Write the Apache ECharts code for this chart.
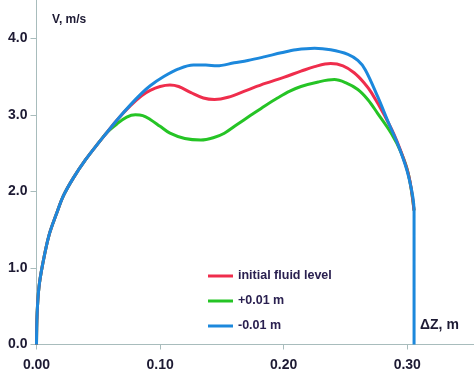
<!DOCTYPE html>
<html><head><meta charset="utf-8">
<script src="https://cdn.jsdelivr.net/npm/echarts@6/dist/echarts.min.js"></script>
<style>html,body{margin:0;padding:0;background:#fff}#c{width:474px;height:371px}</style>
</head><body><div id="c"></div>
<script>
// Shared start of all three curves (dZ, V)
const sharedX = [0, 0.0005, 0.002, 0.005, 0.01, 0.016, 0.022, 0.03, 0.04, 0.05, 0.057];
const sharedV = [0, 0.4, 0.75, 1.05, 1.42, 1.7, 1.95, 2.18, 2.42, 2.63, 2.77];

const blueX = [0.065, 0.076, 0.085, 0.092, 0.103, 0.115, 0.127, 0.137, 0.146, 0.16, 0.171, 0.185, 0.198, 0.21, 0.225, 0.238, 0.252, 0.26, 0.266, 0.276, 0.285, 0.293, 0.301, 0.3055, 0.3055];
const blueV = [2.93, 3.13, 3.28, 3.38, 3.50, 3.60, 3.65, 3.65, 3.64, 3.68, 3.71, 3.76, 3.81, 3.85, 3.87, 3.85, 3.79, 3.71, 3.59, 3.24, 2.89, 2.59, 2.20, 1.75, 0];

const redX = [0.065, 0.076, 0.085, 0.092, 0.1, 0.108, 0.115, 0.125, 0.135, 0.144, 0.155, 0.17, 0.185, 0.2, 0.214, 0.225, 0.238, 0.248, 0.257, 0.265, 0.271, 0.282, 0.291, 0.301, 0.3055];
const redV = [2.93, 3.12, 3.25, 3.32, 3.37, 3.39, 3.37, 3.29, 3.22, 3.20, 3.23, 3.32, 3.41, 3.49, 3.57, 3.63, 3.67, 3.64, 3.55, 3.42, 3.29, 2.98, 2.68, 2.22, 1.75];

const greenX = [0.065, 0.073, 0.08, 0.086, 0.092, 0.1, 0.108, 0.12, 0.133, 0.143, 0.152, 0.162, 0.173, 0.185, 0.195, 0.205, 0.214, 0.228, 0.241, 0.25, 0.26, 0.268, 0.276, 0.287, 0.295, 0.301, 0.3055];
const greenV = [2.88, 2.97, 3.0, 2.99, 2.94, 2.85, 2.76, 2.69, 2.67, 2.70, 2.76, 2.87, 2.99, 3.12, 3.22, 3.31, 3.37, 3.43, 3.46, 3.42, 3.33, 3.2, 3.02, 2.76, 2.51, 2.22, 1.75];

const seriesNames = ['initial fluid level', '+0.01 m', '-0.01 m'];
const xTicks = [0, 0.1, 0.2, 0.3];
const yTicks = [0, 1, 2, 3, 4];

function pts(xs, vs) {
  const a = sharedX.map((x, i) => [x, sharedV[i]]);
  return a.concat(xs.map((x, i) => [x, vs[i]]));
}

const chart = echarts.init(document.getElementById('c'));
const txt = '#1d1a33';
const axisCol = '#a8bcbc';
const font = 'Liberation Sans, Arial, sans-serif';
chart.setOption({
  animation: false,
  grid: { left: 36.5, right: 0, top: 0, bottom: 26.5, containLabel: false, outerBoundsMode: 'none' },
  xAxis: {
    type: 'value', min: 0, max: 0.354,
    splitLine: { show: false },
    axisLine: { lineStyle: { color: axisCol, width: 1 } },
    axisTick: { customValues: xTicks, length: 5, lineStyle: { color: axisCol } },
    axisLabel: { customValues: xTicks, formatter: v => v.toFixed(2), color: txt, fontWeight: 'bold', fontSize: 14, fontFamily: font, margin: 14 }
  },
  yAxis: {
    type: 'value', min: 0, max: 4.5,
    splitLine: { show: false },
    axisLine: { show: true, lineStyle: { color: axisCol, width: 1 } },
    axisTick: { show: true, customValues: yTicks, length: 6, lineStyle: { color: axisCol } },
    axisLabel: { customValues: yTicks, formatter: v => v.toFixed(1), color: txt, fontWeight: 'bold', fontSize: 14, fontFamily: font, margin: 9 }
  },
  legend: {
    data: seriesNames,
    orient: 'vertical', left: 208, top: 269, padding: 0,
    itemWidth: 25, itemHeight: 3, itemGap: 11, icon: 'rect',
    textStyle: { color: '#2a2050', fontWeight: 'bold', fontSize: 12.5, fontFamily: font, lineHeight: 14 }
  },
  graphic: [
    { type: 'text', left: 52, top: 14, style: { text: 'V, m/s', fill: txt, font: 'bold 12px ' + font } },
    { type: 'text', left: 420, top: 318, style: { text: 'ΔZ, m', fill: txt, font: 'bold 14px ' + font } }
  ],
  series: [
    { name: seriesNames[1], type: 'line', data: pts(greenX, greenV), smooth: 0.35, showSymbol: false, lineStyle: { width: 3, color: '#25c425' }, itemStyle: { color: '#25c425' } },
    { name: seriesNames[0], type: 'line', data: pts(redX, redV), smooth: 0.35, showSymbol: false, lineStyle: { width: 3, color: '#ef2d4c' }, itemStyle: { color: '#ef2d4c' } },
    { name: seriesNames[2], type: 'line', data: pts(blueX, blueV), smooth: 0.35, showSymbol: false, lineStyle: { width: 3, color: '#1c88dc' }, itemStyle: { color: '#1c88dc' } }
  ]
});
</script></body></html>
